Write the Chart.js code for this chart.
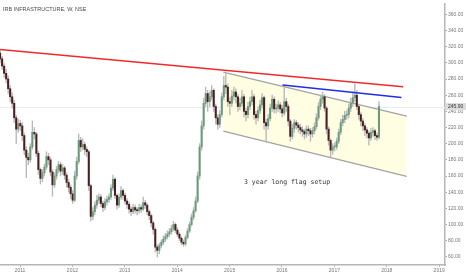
<!DOCTYPE html>
<html>
<head>
<meta charset="utf-8">
<script src="https://cdn.jsdelivr.net/npm/chart.js@4"></script>
<style>
  html, body { margin: 0; padding: 0; background: #fff; }
  #wrap { width: 466px; height: 275px; position: relative; }
</style>
</head>
<body>
<div id="wrap"><canvas id="chart"></canvas></div>
<script>
// IRB Infrastructure, NSE - candles (one candle per two weeks)
const firstBar = 2010.62;   // decimal year of the first candle
const barStep = 2 / 52;     // two weeks per candle

const opens = [
  312, 305, 296, 287, 280, 268, 258, 250, 232, 218,
  225, 222, 210, 192, 183, 180, 196, 214, 212, 188,
  168, 157, 164, 171, 184, 180, 165, 149, 160, 168,
  174, 166, 170, 161, 152, 146, 138, 130, 160, 178,
  204, 196, 199, 193, 190, 148, 110, 116, 124, 130,
  134, 126, 121, 128, 131, 134, 145, 156, 136, 124,
  134, 142, 136, 129, 125, 119, 116, 121, 118, 117,
  121, 119, 127, 124, 116, 111, 102, 94, 72, 68,
  74, 78, 82, 85, 88, 91, 95, 100, 93, 88,
  83, 78, 76, 84, 92, 100, 109, 117, 129, 160,
  196, 222, 250, 262, 252, 258, 266, 246, 232, 224,
  236, 258, 272, 270, 252, 250, 259, 264, 258, 246,
  250, 258, 240, 236, 246, 252, 258, 236, 232, 241,
  248, 257, 226, 222, 231, 244, 255, 243, 244, 248,
  243, 238, 252, 246, 228, 209, 219, 226, 223, 220,
  217, 215, 212, 218, 216, 212, 216, 221, 232, 246,
  255, 258, 244, 218, 204, 192, 196, 196, 203, 214,
  226, 230, 235, 236, 244, 250, 257, 260, 246, 236,
  228, 222, 217, 213, 207, 214, 216, 210, 208
];
const highs = [
  316, 308, 299, 292, 284, 272, 263, 254, 235, 230,
  229, 226, 213, 196, 188, 200, 228, 220, 214, 191,
  170, 168, 175, 190, 188, 183, 168, 164, 172, 178,
  177, 174, 172, 164, 156, 149, 142, 166, 183, 212,
  208, 206, 202, 196, 192, 150, 121, 128, 136, 138,
  137, 129, 132, 135, 138, 149, 161, 158, 138, 138,
  147, 144, 139, 132, 128, 122, 125, 124, 121, 125,
  124, 134, 130, 126, 118, 113, 104, 96, 75, 77,
  81, 86, 89, 92, 95, 99, 104, 102, 96, 90,
  85, 81, 87, 95, 103, 113, 121, 134, 165, 200,
  228, 256, 270, 266, 264, 272, 268, 249, 236, 241,
  263, 283, 288, 274, 257, 266, 270, 268, 261, 256,
  266, 261, 244, 251, 258, 266, 261, 240, 246, 254,
  262, 259, 230, 236, 249, 260, 258, 249, 253, 251,
  247, 272, 256, 249, 230, 224, 230, 229, 226, 224,
  221, 218, 222, 222, 219, 220, 226, 237, 251, 260,
  264, 261, 246, 221, 206, 200, 201, 207, 218, 230,
  235, 240, 241, 249, 256, 264, 274, 266, 249, 239,
  231, 225, 220, 216, 219, 220, 218, 213, 252
];
const lows = [
  300, 292, 282, 275, 262, 252, 244, 226, 200, 214,
  216, 204, 186, 158, 174, 177, 193, 206, 184, 162,
  150, 153, 160, 168, 174, 160, 135, 146, 156, 164,
  160, 162, 156, 146, 140, 132, 126, 128, 156, 175,
  190, 192, 186, 184, 142, 104, 106, 112, 120, 126,
  122, 116, 118, 124, 127, 131, 142, 132, 119, 121,
  131, 131, 125, 120, 114, 111, 113, 114, 112, 114,
  115, 117, 120, 112, 106, 97, 88, 66, 60, 64,
  71, 75, 79, 82, 85, 88, 92, 90, 85, 80,
  75, 73, 74, 82, 90, 98, 106, 115, 127, 156,
  192, 218, 246, 240, 246, 254, 240, 224, 218, 220,
  233, 254, 262, 246, 236, 246, 254, 250, 240, 242,
  246, 233, 228, 232, 242, 248, 230, 224, 228, 237,
  244, 218, 202, 218, 228, 240, 238, 238, 240, 238,
  233, 235, 240, 222, 203, 206, 214, 218, 214, 212,
  209, 206, 208, 210, 203, 208, 212, 218, 229, 242,
  250, 240, 212, 198, 184, 187, 191, 193, 200, 211,
  222, 226, 230, 232, 240, 246, 252, 242, 230, 222,
  216, 210, 207, 198, 204, 209, 205, 204, 206
];
const closes = [
  305, 296, 287, 280, 268, 258, 250, 232, 218, 225,
  222, 210, 192, 183, 180, 196, 214, 212, 188, 168,
  157, 164, 171, 184, 180, 165, 149, 160, 168, 174,
  166, 170, 161, 152, 146, 138, 130, 160, 178, 204,
  196, 199, 193, 190, 148, 110, 116, 124, 130, 134,
  126, 121, 128, 131, 134, 145, 156, 136, 124, 134,
  142, 136, 129, 125, 119, 116, 121, 118, 117, 121,
  119, 127, 124, 116, 111, 102, 94, 72, 68, 74,
  78, 82, 85, 88, 91, 95, 100, 93, 88, 83,
  78, 76, 84, 92, 100, 109, 117, 129, 160, 196,
  222, 250, 262, 252, 258, 266, 246, 232, 224, 236,
  258, 272, 270, 252, 250, 259, 264, 258, 246, 250,
  258, 240, 236, 246, 252, 258, 236, 232, 241, 248,
  257, 226, 222, 231, 244, 255, 243, 244, 248, 243,
  238, 252, 246, 228, 209, 219, 226, 223, 220, 217,
  215, 212, 218, 216, 212, 216, 221, 232, 246, 255,
  258, 244, 218, 204, 192, 196, 196, 203, 214, 226,
  230, 235, 236, 244, 250, 257, 260, 246, 236, 228,
  222, 217, 213, 207, 214, 216, 210, 208, 245.9
];

const years = [2011, 2012, 2013, 2014, 2015, 2016, 2017, 2018, 2019];
const priceTicks = [60, 80, 100, 120, 140, 160, 180, 200, 220, 240, 260, 280, 300, 320, 340, 360];
const lastPrice = 245.90;

// drawn trendlines (decimal year, price)
const resistanceLine = [{ x: 2010.62, y: 316.5 }, { x: 2018.31, y: 270.5 }];
const innerLine = [{ x: 2016.01, y: 272.5 }, { x: 2018.28, y: 257 }];
const flagTop = [{ x: 2014.88, y: 288.5 }, { x: 2018.38, y: 234 }];
const flagBottom = [{ x: 2014.88, y: 215.5 }, { x: 2018.38, y: 159.5 }];

const UP = '#6b9a7b';
const DOWN = '#4a1f1f';
const WICK = '#b8b8b8';

const barTimes = closes.map((_, i) => firstBar + i * barStep);
const bodies = closes.map((c, i) => ({ x: barTimes[i], y: [opens[i], c] }));
const wicks = closes.map((c, i) => ({ x: barTimes[i], y: [lows[i], highs[i]] }));
const isUp = i => closes[i] >= opens[i];

const overlay = {
  id: 'overlay',
  beforeDatasetsDraw(chart) {
    const { ctx, chartArea, scales } = chart;
    const y = Math.round(scales.y.getPixelForValue(lastPrice)) + 0.5;
    ctx.save();
    ctx.strokeStyle = '#ebebeb';
    ctx.lineWidth = 1;
    ctx.beginPath();
    ctx.moveTo(chartArea.left, y);
    ctx.lineTo(chartArea.right, y);
    ctx.stroke();
    ctx.restore();
  },
  afterDraw(chart) {
    const { ctx, chartArea, scales } = chart;
    ctx.save();
    // title
    ctx.fillStyle = '#4a4a4a';
    ctx.font = '5.5px "Liberation Sans"';
    ctx.textBaseline = 'middle';
    ctx.fillText('IRB INFRASTRUCTURE, W, NSE', 3, 9);
    // annotation
    ctx.fillStyle = '#333';
    ctx.font = '6.5px "DejaVu Sans Mono"';
    ctx.fillText('3 year long flag setup', 244, 182);
    // last price tag
    const y = scales.y.getPixelForValue(lastPrice);
    ctx.fillStyle = '#dcdcdc';
    ctx.fillRect(chartArea.right + 1, y - 3.5, 21, 7);
    ctx.fillStyle = '#333';
    ctx.font = '5px "Liberation Sans"';
    ctx.fillText(lastPrice.toFixed(2), chartArea.right + 3, y);
    ctx.restore();
  }
};

new Chart(document.getElementById('chart'), {
  type: 'bar',
  data: {
    datasets: [
      {
        type: 'line', data: resistanceLine, borderColor: '#f02a2a', borderWidth: 1.5,
        pointRadius: 0, fill: false, order: 0
      },
      {
        type: 'line', data: innerLine, borderColor: '#1f2de8', borderWidth: 1.5,
        pointRadius: 0, fill: false, order: 0
      },
      {
        data: bodies, grouped: false, barThickness: 1.4, minBarLength: 1, order: 1,
        backgroundColor: c => isUp(c.dataIndex) ? UP : DOWN
      },
      {
        data: wicks, grouped: false, barThickness: 0.7, order: 2,
        backgroundColor: WICK
      },
      {
        type: 'line', data: flagTop, borderColor: '#a3a3a3', borderWidth: 1.2,
        pointRadius: 0, fill: false, order: 3
      },
      {
        type: 'line', data: flagBottom, borderColor: '#a3a3a3', borderWidth: 1.2,
        pointRadius: 0, fill: '-1', backgroundColor: '#fffde2', order: 3
      }
    ]
  },
  options: {
    responsive: true,
    maintainAspectRatio: false,
    animation: false,
    events: [],
    layout: { padding: 0 },
    plugins: { legend: { display: false }, tooltip: { enabled: false } },
    scales: {
      x: {
        type: 'linear',
        offset: false,
        min: 2010.618,
        max: 2019.111,
        afterBuildTicks: s => { s.ticks = years.map(v => ({ value: v })); },
        afterFit: s => { s.height = 10; },
        ticks: {
          autoSkip: false, maxRotation: 0, padding: 1, color: '#777',
          font: { family: 'Liberation Sans', size: 5 },
          callback: v => String(v)
        },
        grid: { offset: false, drawOnChartArea: false, drawTicks: true, tickLength: 2, color: '#aaa' },
        border: { color: '#b5b5b5', width: 1.5 }
      },
      y: {
        position: 'right',
        min: 49.9,
        max: 372.8,
        afterBuildTicks: s => { s.ticks = priceTicks.map(v => ({ value: v })); },
        afterFit: s => { s.width = 21; },
        ticks: {
          padding: 1, color: '#777',
          font: { family: 'Liberation Sans', size: 5 },
          callback: v => v.toFixed(2)
        },
        grid: { drawOnChartArea: false, drawTicks: true, tickLength: 2, color: '#aaa' },
        border: { color: '#b5b5b5', width: 1.5 }
      }
    }
  },
  plugins: [overlay]
});
</script>
</body>
</html>
